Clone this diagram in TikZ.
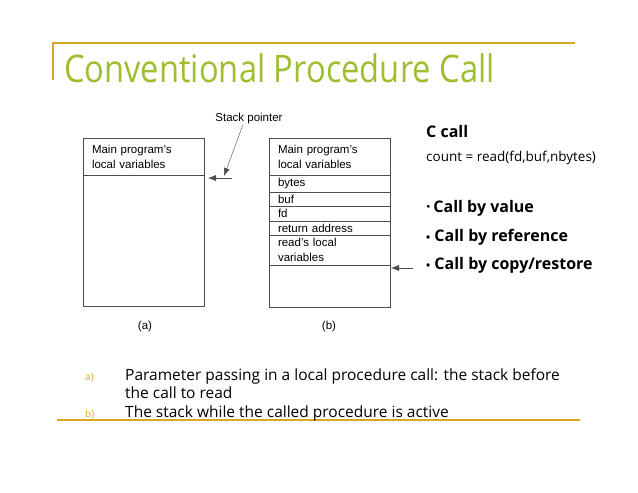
\documentclass[tikz,border=0pt]{standalone}
\usepackage{fontspec}
\setmainfont{Liberation Sans}
\newfontfamily\slidefont{Open Sans}
\newfontfamily\titlefont[FakeStretch=0.86]{Open Sans}
\usetikzlibrary{arrows.meta, positioning}
\definecolor{titlegreen}{RGB}{158,190,48}
\definecolor{rulegold}{RGB}{218,165,32}
\tikzset{
  cell/.style={rectangle,draw=black!70,outer sep=0pt,align=left,text width=103pt,inner xsep=9pt,inner ysep=0pt,minimum width=121pt,font=\fontsize{11.5}{15}\selectfont},
  diag/.style={inner sep=0pt,font=\fontsize{11.5}{15}\selectfont},
  txt/.style={anchor=base west,inner sep=0pt,align=left},
  bullet/.style={txt,font=\slidefont\bfseries\fontsize{16}{18}\selectfont},
  line/.style={-{Latex[length=8pt,width=6pt]},draw=black!70}
}

\begin{document}
\begin{tikzpicture}[x=1pt,y=-1pt,node distance=0pt]
\useasboundingbox (0,0) rectangle (638,493);
\draw[rulegold,line width=1.2pt] (53,80) -- (53,43) -- (575,43);
\draw[rulegold,line width=1.2pt] (57,420) -- (580,420);
\node[txt,text=titlegreen,font=\titlefont\fontsize{38}{40}\selectfont] (title) at (64,82) {Conventional Procedure Call};

\node[cell,anchor=north west,minimum height=37pt] (a1) at (83,138) {Main program's\\local variables};
\node[cell,below=of a1,minimum height=131pt] (a2) {};

\node[cell,anchor=north west,minimum height=37pt] (b1) at (269,138) {Main program's\\local variables};
\node[cell,below=of b1,minimum height=17pt] (b2) {bytes};
\node[cell,below=of b2,minimum height=14pt] (b3) {buf};
\node[cell,below=of b3,minimum height=15pt] (b4) {fd};
\node[cell,below=of b4,minimum height=14pt] (b5) {return address};
\node[cell,below=of b5,minimum height=30pt] (b6) {read's local\\variables};
\node[cell,below=of b6,minimum height=42pt] (b7) {};

\node[diag] (sp) at (249,119) {Stack pointer};
\coordinate (spa) at (224,176);
\coordinate (spb) at ([xshift=28pt,yshift=-3pt]a1.south east);
\coordinate (spc) at ([xshift=4pt,yshift=-3pt]a1.south east);
\draw[line] ([xshift=-6pt]sp.south) -- (spa);
\draw[line] (spb) -- (spc);
\coordinate (top) at (413,268);
\draw[line] (top) -- ([xshift=1pt,yshift=-3pt]b6.south east);

\node[diag] (la) at (145,327) {(a)};
\node[diag] (lb) at (329,327) {(b)};

\node[txt,font=\slidefont\bfseries\fontsize{16}{18}\selectfont] (ccall) at (426,137) {C call};
\node[txt,font=\slidefont\fontsize{13.5}{15}\selectfont] (count) at (426,161) {count = read(fd,buf,nbytes)};
\node[bullet] (byval) at (426,212) {·\,Call by value};
\node[bullet] (byref) at (426,241) {{\fontsize{11}{12}\selectfont•}\ Call by reference};
\node[bullet] (bycopy) at (426,269) {{\fontsize{11}{12}\selectfont•}\ Call by copy/restore};

\node[txt,text=rulegold,font=\slidefont\fontsize{10}{12}\selectfont] (ma) at (85,380) {a)};
\node[txt,font=\slidefont\fontsize{15.5}{18}\selectfont] (capa) at (125,398) {Parameter passing in a local procedure call: the stack before\\the call to read};
\node[txt,text=rulegold,font=\slidefont\fontsize{10}{12}\selectfont] (mb) at (85,417) {b)};
\node[txt,font=\slidefont\fontsize{15.5}{18}\selectfont] (capb) at (125,417) {The stack while the called procedure is active};
\end{tikzpicture}
\end{document}
